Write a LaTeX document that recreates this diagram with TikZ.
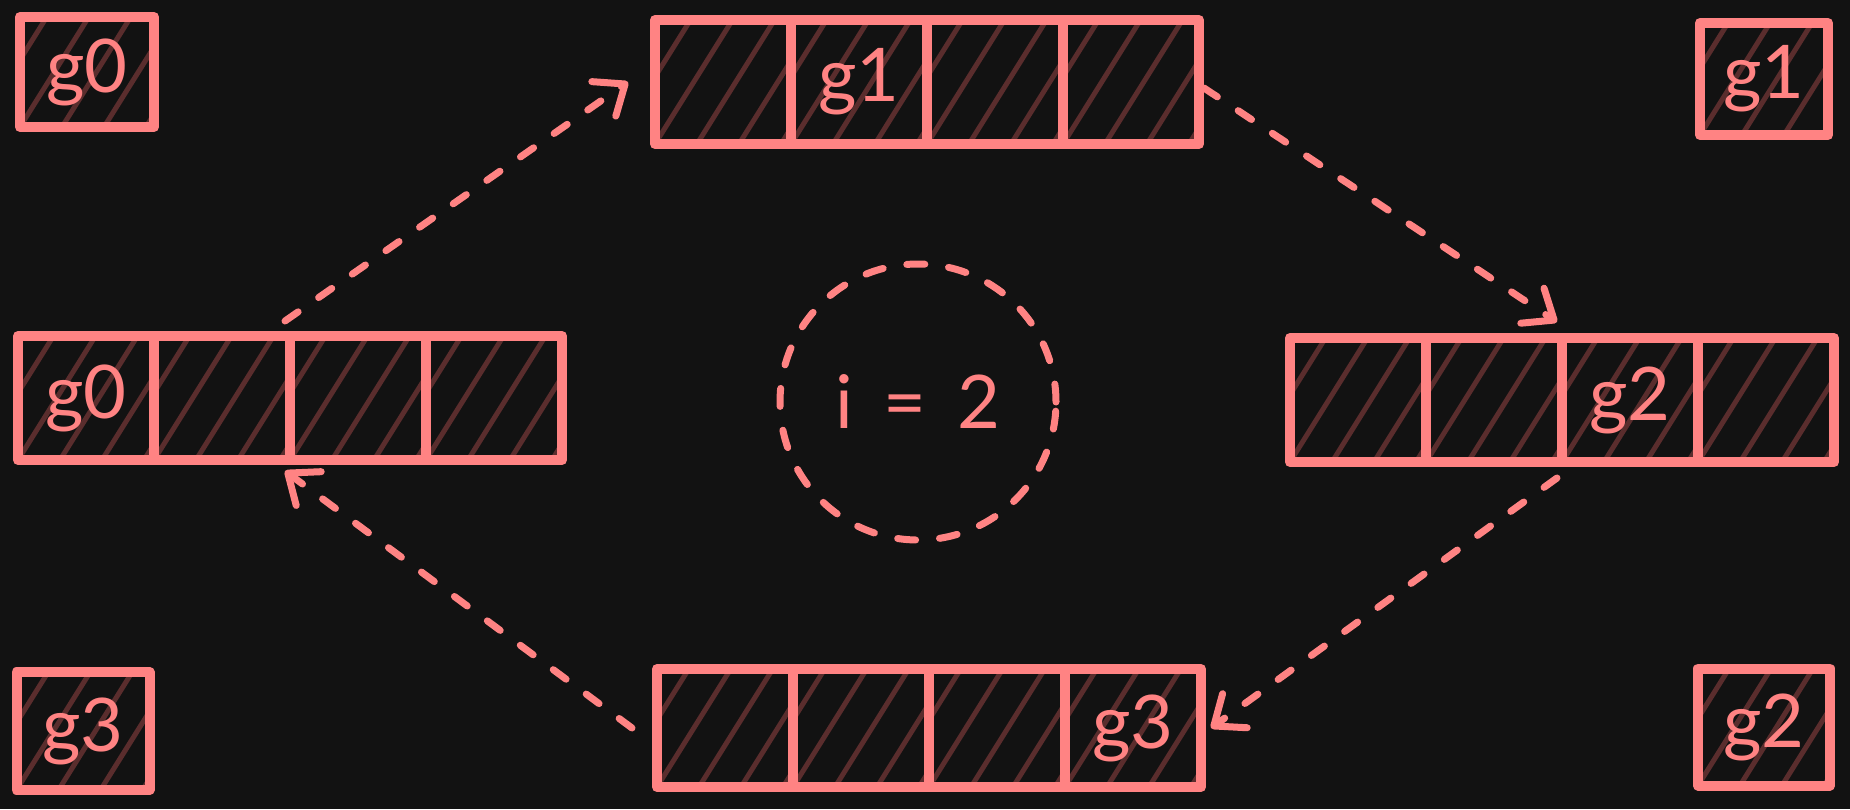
\documentclass[tikz,border=0pt]{standalone}
\usepackage{fontspec}
\setmainfont{Lato}
\usetikzlibrary{arrows.meta}
\definecolor{bg}{HTML}{121212}
\definecolor{pk}{HTML}{FF8383}
\definecolor{hatch}{HTML}{5A2D2D}
\tikzset{
  hatchline/.style={draw=hatch, line width=5pt, line cap=round},
  cellbox/.style={draw=pk, line width=10pt, line join=round, fill=bg,
    minimum width=136pt, minimum height=124pt, inner sep=0pt,
    font=\fontsize{74}{74}\selectfont, text=pk,
    path picture={\foreach \k in {-5,...,5}{\draw[hatchline] ([xshift=\k*42pt]path picture bounding box.south west) -- ++(58:300pt);}}},
  link/.style={draw=pk, line width=7pt, line cap=round, dash pattern=on 16pt off 25pt,
    -{Straight Barb[length=26pt,width=42pt,line width=7pt,round]}},
  ring/.style={circle, draw=pk, line width=7pt, line cap=round, dash pattern=on 18pt off 24pt,
    minimum size=276pt, inner sep=0pt, text=pk, font=\fontsize{74}{74}\selectfont}
}
\begin{document}
\begin{tikzpicture}[x=1pt,y=-1pt]
\fill[bg] (0,0) rectangle (1850,809);
\useasboundingbox (0,0) rectangle (1850,809);
% corner boxes
\node[cellbox, minimum width=134pt, minimum height=110pt] (G0) at (87,72) {g0};
\node[cellbox, minimum width=128pt, minimum height=112pt] (G1) at (1764,79) {g1};
\node[cellbox, minimum width=133pt, minimum height=118pt] (G3) at (83,731) {g3};
\node[cellbox, minimum width=132pt, minimum height=117pt] (G2) at (1764,727) {g2};
% top array
\node[cellbox] (T1) at (723,82) {};
\node[cellbox] (T2) at (859,82) {g1};
\node[cellbox] (T3) at (995,82) {};
\node[cellbox] (T4) at (1131,82) {};
% left array
\node[cellbox] (L1) at (86,398) {g0};
\node[cellbox] (L2) at (222,398) {};
\node[cellbox] (L3) at (358,398) {};
\node[cellbox] (L4) at (494,398) {};
% right array
\node[cellbox] (R1) at (1358,400) {};
\node[cellbox] (R2) at (1494,400) {};
\node[cellbox] (R3) at (1630,400) {g2};
\node[cellbox] (R4) at (1766,400) {};
% bottom array
\node[cellbox, minimum height=118pt] (B1) at (725,728) {};
\node[cellbox, minimum height=118pt] (B2) at (861,728) {};
\node[cellbox, minimum height=118pt] (B3) at (997,728) {};
\node[cellbox, minimum height=118pt] (B4) at (1133,728) {g3};
% centre
\node[ring] (C) at (918,402) {i\hspace{0.42em}=\hspace{0.42em}2};
% arrows
\draw[link] ([yshift=10pt]L3.north west) -- ([xshift=-22pt]T1.west);
\draw[link] ([yshift=-6pt]T4.east) -- ([yshift=11pt]R3.north west);
\draw[link] ([yshift=-11pt]R3.south west) -- ([xshift=5pt]B4.east);
\draw[link] ([xshift=-20pt]B1.west) -- ([yshift=-6pt]L3.south west);
\end{tikzpicture}
\end{document}
